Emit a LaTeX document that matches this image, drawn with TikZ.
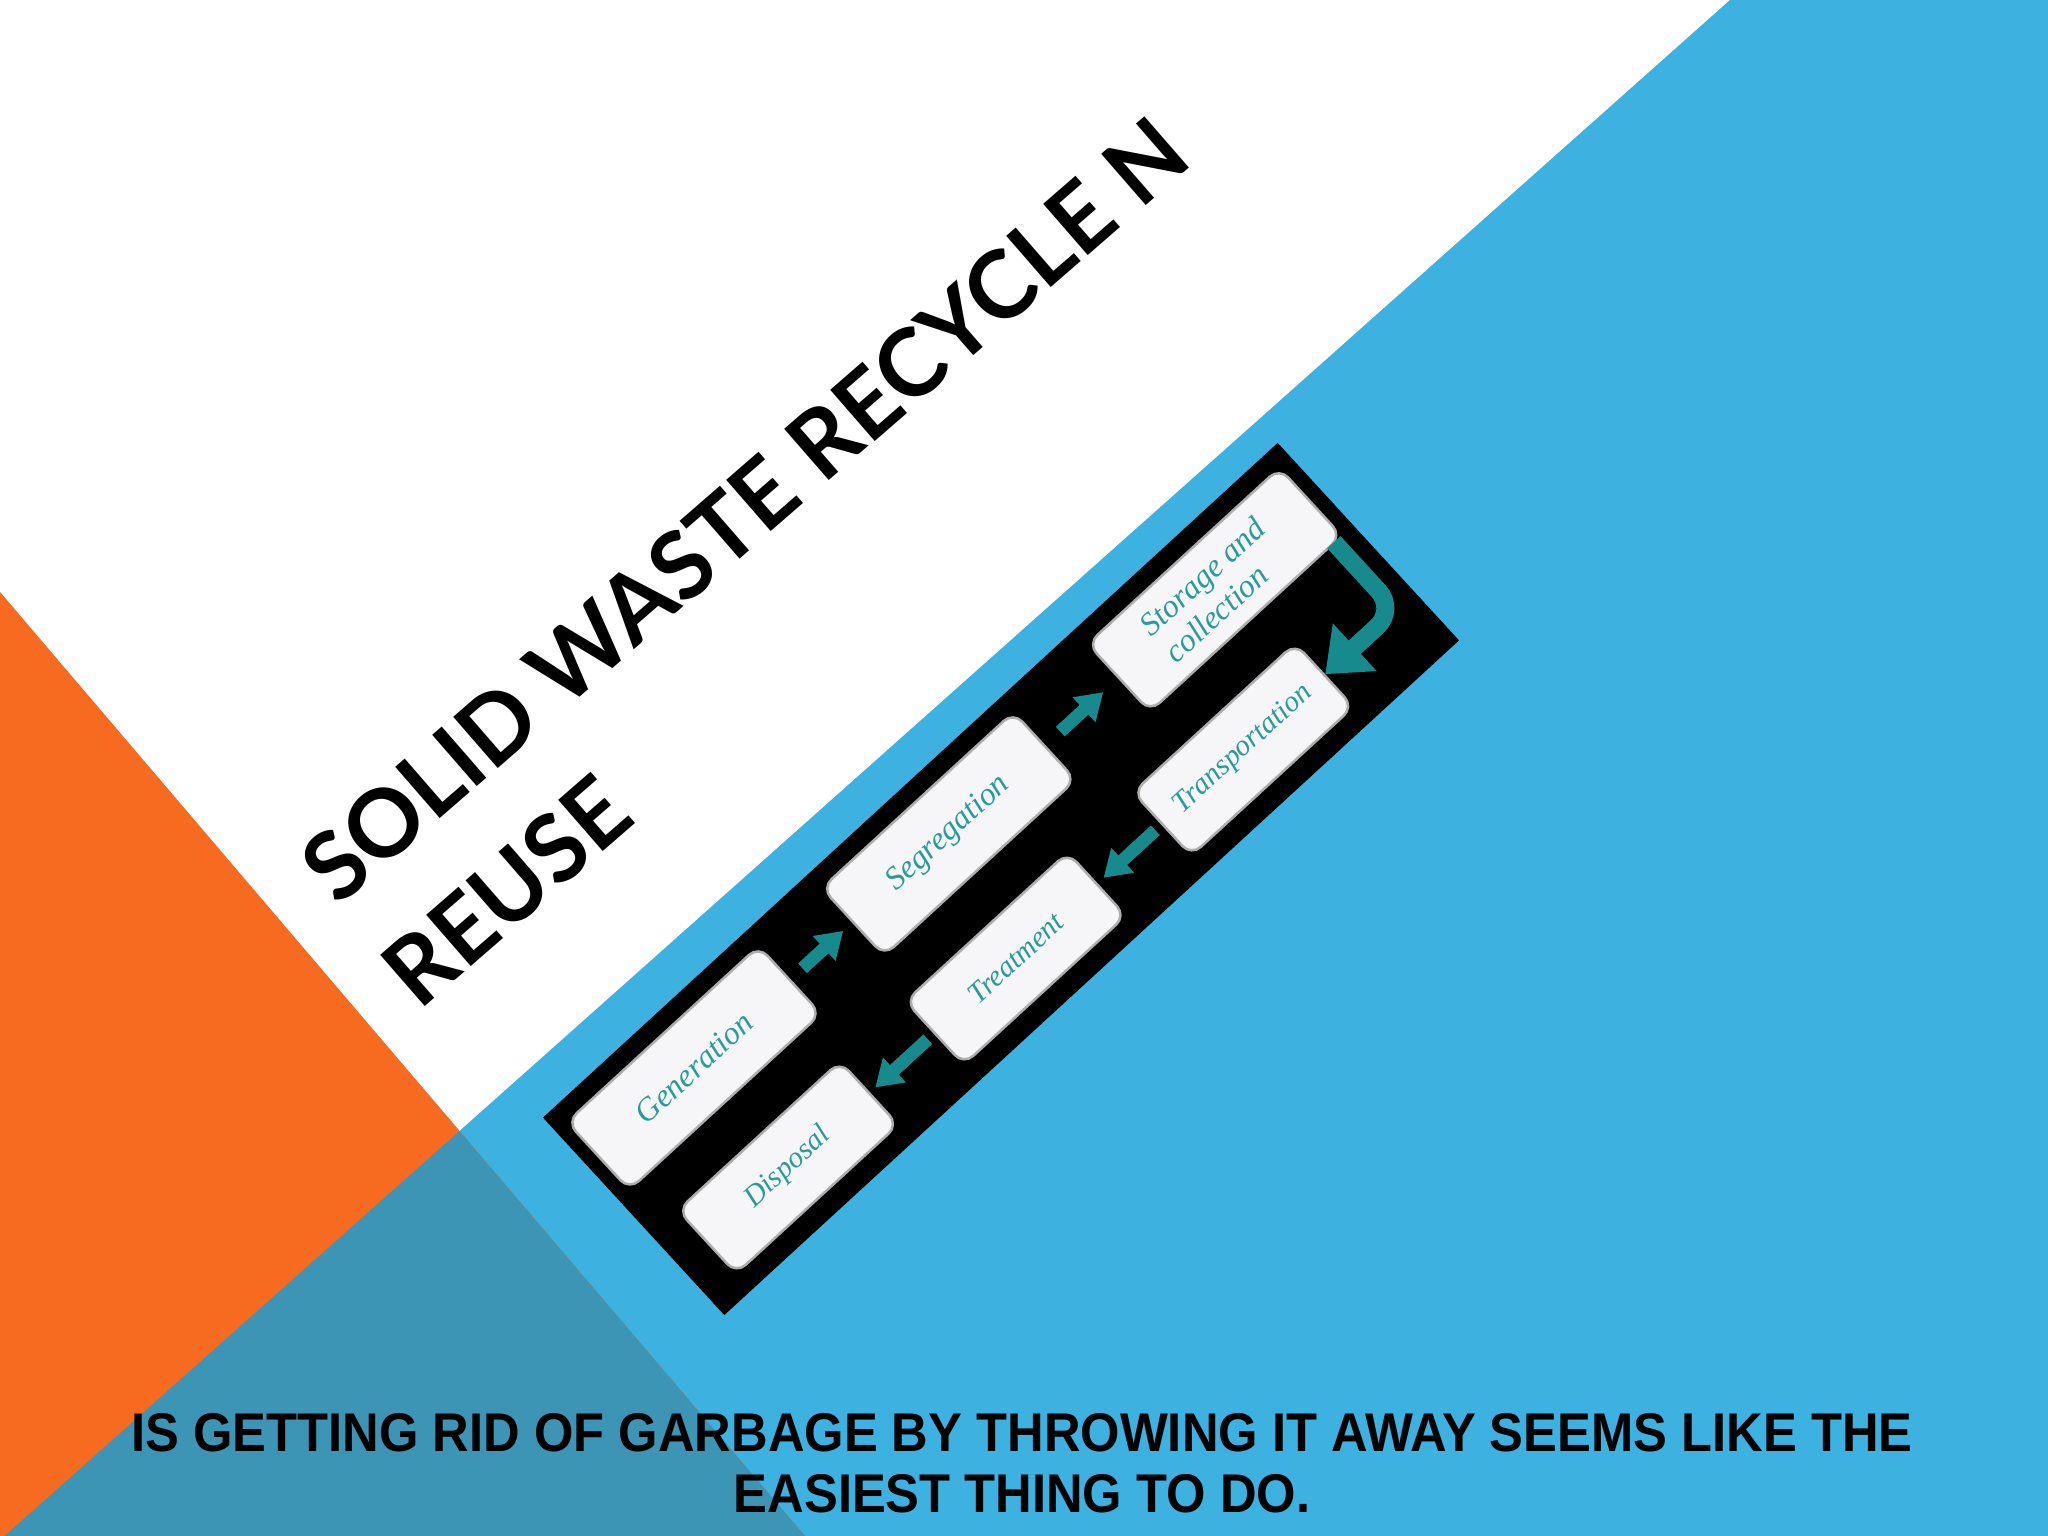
\documentclass[tikz,border=0pt]{standalone}
\usepackage{fontspec}
\usetikzlibrary{arrows.meta}
\newfontfamily\titlefont{Lato}
\newfontfamily\boxfont{Liberation Serif}
\newfontfamily\bottomfont{Liberation Sans}[FakeStretch=0.93]
\definecolor{bgblue}{HTML}{3DB1E0}
\definecolor{bgorange}{HTML}{F76B21}
\definecolor{bgmix}{HTML}{3D95B6}
\definecolor{arrowteal}{HTML}{178A8D}
\definecolor{textteal}{HTML}{2A9B98}
\definecolor{boxfill}{HTML}{F6F6F8}
\begin{document}
\begin{tikzpicture}[x=0.01cm,y=0.01cm,
  stepbox/.style={draw=black!32, line width=0.025cm, fill=boxfill, rounded corners=0.13cm,
    transform shape, text=textteal, align=center, inner sep=0pt},
  upperbox/.style={stepbox, minimum width=2.6cm, minimum height=0.92cm,
    font=\boxfont\itshape\fontsize{9.2}{10.4}\selectfont},
  lowerbox/.style={stepbox, minimum width=2.2cm, minimum height=0.86cm,
    font=\boxfont\itshape\fontsize{8.4}{10}\selectfont},
  flow/.style={draw=arrowteal, line width=0.13cm, -{Triangle[width=0.32cm,length=0.26cm]}},
  hook/.style={draw=arrowteal, line width=0.18cm, rounded corners=0.25cm,
    -{Triangle[width=0.62cm,length=0.40cm]}},
  titletext/.style={anchor=base west, inner sep=0pt, rotate=41,
    font=\titlefont\bfseries\fontsize{26.7}{30}\selectfont, text=black},
  bottomtext/.style={anchor=base, inner sep=0pt,
    font=\bottomfont\bfseries\fontsize{15.5}{18}\selectfont, text=black}
]
\useasboundingbox (0,0) rectangle (2048,1536);
\fill[white] (0,0) rectangle (2048,1536);
\fill[bgblue] (1730,1536) -- (2048,1536) -- (2048,0) -- (4.5,0) -- cycle;
\fill[bgorange] (0,944) -- (805,0) -- (0,0) -- cycle;
\fill[bgmix] (459.5,405) -- (805,0) -- (4.5,0) -- cycle;

\node[titletext] (title1) at (338,628) {SOLID WASTE RECYCLE N};
\node[titletext] (title2) at (419,524) {REUSE};

\begin{scope}[shift={(1001,657)}, rotate=42.56]
  \node[fill=black, minimum width=9.97cm, minimum height=2.68cm, inner sep=0pt,
        transform shape] (band) at (0,0) {};
  \node[upperbox] (gen) at (-354,68.5) {Generation};
  \node[upperbox] (seg) at (-8,68.5) {Segregation};
  \node[upperbox, align=left] (sto) at (353,68.5) {Storage and\\collection};
  \node[lowerbox] (dis) at (-352,-68.5) {Disposal};
  \node[lowerbox] (tre) at (-43,-68.5) {Treatment};
  \node[lowerbox] (tra) at (266,-68.5) {Transportation};
  \coordinate (hookstart) at (473,23);
  \draw[flow, shorten <=0.16cm, shorten >=0.12cm] (gen) -- (seg);
  \draw[flow, shorten <=0.2cm, shorten >=0.2cm] (seg) -- (sto);
  \draw[flow, shorten <=0.08cm, shorten >=0.08cm] (tra) -- (tre);
  \draw[flow, shorten <=0.08cm, shorten >=0.07cm] (tre) -- (dis);
  \draw[hook] (hookstart) |- (tra.east);
\end{scope}

\node[bottomtext] (sub1) at (1022,84) {IS GETTING RID OF GARBAGE BY THROWING IT AWAY SEEMS LIKE THE};
\node[bottomtext] (sub2) at (1022,23) {EASIEST THING TO DO.};
\end{tikzpicture}
\end{document}
